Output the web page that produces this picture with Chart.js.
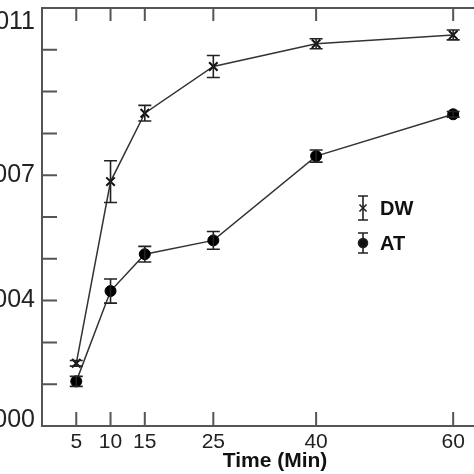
<!DOCTYPE html>
<html>
<head>
<meta charset="utf-8">
<script src="https://cdn.jsdelivr.net/npm/chart.js@4.4.0/dist/chart.umd.min.js"></script>
<style>
  html, body { margin: 0; padding: 0; background: #fff; overflow: hidden; width: 474px; height: 474px; }
  #wrap { position: absolute; left: -40px; top: 0; }
</style>
</head>
<body>
<div id="wrap"><canvas id="myChart" width="556" height="474"></canvas></div>
<script>
// datos
const timeMin = [5, 10, 15, 25, 40, 60]
const dwMean = [0.00177, 0.00690, 0.00883, 0.01015, 0.01079, 0.01104]
const dwErr = [0.00008, 0.00059, 0.00022, 0.00031, 0.00014, 0.00014]
const atMean = [0.00126, 0.00381, 0.00485, 0.00524, 0.00762, 0.00880]
const atErr = [0.00014, 0.00034, 0.00022, 0.00025, 0.00017, 0.00008]

const xTicks = [5, 10, 15, 25, 40, 60]
const yTickValues = [0.00018, 0.00354, 0.00708, 0.01141]
const yTickLabels = ['0.000', '0.004', '0.007', '0.011']
const yMinorStep = 0.00118
const yMax = 0.0118

const toPoints = (xs, ys) => xs.map((x, i) => ({ x: x, y: ys[i] }))

// barras de error + marco + leyenda
const extras = {
  id: 'extras',
  afterDatasetsDraw(chart) {
    const ctx = chart.ctx
    const x = chart.scales.x
    const y = chart.scales.y
    const area = chart.chartArea
    ctx.save()
    ctx.strokeStyle = '#222'
    ctx.lineWidth = 1.6
    chart.data.datasets.forEach(ds => {
      ds.data.forEach((p, i) => {
        const px = x.getPixelForValue(p.x)
        const top = y.getPixelForValue(p.y + ds.errors[i])
        const bot = y.getPixelForValue(p.y - ds.errors[i])
        ctx.beginPath()
        ctx.moveTo(px, top); ctx.lineTo(px, bot)
        ctx.moveTo(px - 6.5, top); ctx.lineTo(px + 6.5, top)
        ctx.moveTo(px - 6.5, bot); ctx.lineTo(px + 6.5, bot)
        ctx.stroke()
      })
    })

    // marco superior y ticks hacia adentro
    ctx.strokeStyle = '#555'
    ctx.lineWidth = 2
    ctx.beginPath()
    ctx.moveTo(area.left, area.top); ctx.lineTo(area.right, area.top)
    xTicks.forEach(v => {
      const px = x.getPixelForValue(v)
      ctx.moveTo(px, area.bottom); ctx.lineTo(px, area.bottom - 14)
      ctx.moveTo(px, area.top); ctx.lineTo(px, area.top + 13)
    })
    for (let k = 1; k < 10; k++) {
      const py = y.getPixelForValue(k * yMinorStep)
      ctx.moveTo(area.left, py); ctx.lineTo(area.left + 15, py)
    }
    ctx.stroke()

    // leyenda
    const lx = area.left + 321
    const items = [
      { label: 'DW', ds: chart.data.datasets[0], cy: 208, half: 12 },
      { label: 'AT', ds: chart.data.datasets[1], cy: 243, half: 10 }
    ]
    items.forEach(it => {
      ctx.strokeStyle = '#222'
      ctx.lineWidth = 1.6
      ctx.beginPath()
      ctx.moveTo(lx, it.cy - it.half); ctx.lineTo(lx, it.cy + it.half)
      ctx.moveTo(lx - 5, it.cy - it.half); ctx.lineTo(lx + 5, it.cy - it.half)
      ctx.moveTo(lx - 5, it.cy + it.half); ctx.lineTo(lx + 5, it.cy + it.half)
      ctx.stroke()
      Chart.helpers.drawPoint(ctx, {
        pointStyle: it.ds.pointStyle,
        radius: it.ds.pointRadius - 1,
        borderWidth: 1.6
      }, lx, it.cy)
      ctx.fillStyle = '#111'
      ctx.font = 'bold 20px "Liberation Sans", Arial, sans-serif'
      ctx.textBaseline = 'middle'
      ctx.fillText(it.label, lx + 17, it.cy + 1)
    })
    ctx.restore()
  }
}

new Chart(document.getElementById('myChart'), {
  type: 'line',
  data: {
    datasets: [{
      label: 'DW',
      data: toPoints(timeMin, dwMean),
      errors: dwErr,
      borderColor: '#333',
      borderWidth: 1.5,
      pointStyle: 'crossRot',
      pointRadius: 6,
      pointBorderWidth: 2,
      pointBorderColor: '#111',
      pointBackgroundColor: '#111',
      tension: 0
    }, {
      label: 'AT',
      data: toPoints(timeMin, atMean),
      errors: atErr,
      borderColor: '#333',
      borderWidth: 1.5,
      pointStyle: 'circle',
      pointRadius: 5.5,
      pointBorderWidth: 1,
      pointBorderColor: '#000',
      pointBackgroundColor: '#000',
      tension: 0
    }]
  },
  options: {
    responsive: false,
    animation: false,
    layout: { padding: { top: 5, left: 0, right: 5, bottom: 0 } },
    plugins: { legend: { display: false }, tooltip: { enabled: false } },
    scales: {
      x: {
        type: 'linear',
        min: 0,
        max: 68,
        grid: { display: false, drawTicks: false, tickLength: 0 },
        border: { display: true, color: '#555', width: 2 },
        afterBuildTicks: s => { s.ticks = xTicks.map(v => ({ value: v })) },
        afterFit: s => { s.height = 48; s.paddingLeft = 0; s.paddingRight = 0 },
        ticks: {
          autoSkip: false,
          maxRotation: 0,
          padding: 4,
          color: '#222',
          font: { family: '"Liberation Sans", Arial, sans-serif', size: 21 },
          callback: v => String(v)
        },
        title: {
          display: true,
          text: 'Time (Min)',
          color: '#111',
          padding: 0,
          font: { family: '"Liberation Sans", Arial, sans-serif', size: 21, weight: 'bold' }
        }
      },
      y: {
        min: 0,
        max: yMax,
        grid: { display: false, drawTicks: false, tickLength: 0 },
        border: { display: true, color: '#555', width: 2 },
        afterBuildTicks: s => { s.ticks = yTickValues.map(v => ({ value: v })) },
        afterFit: s => { s.width = 82; s.paddingTop = 0; s.paddingBottom = 0 },
        ticks: {
          autoSkip: false,
          padding: 7,
          color: '#222',
          font: { family: '"Liberation Sans", Arial, sans-serif', size: 25 },
          callback: (v, i) => yTickLabels[i]
        }
      }
    }
  },
  plugins: [extras]
})
</script>
</body>
</html>
